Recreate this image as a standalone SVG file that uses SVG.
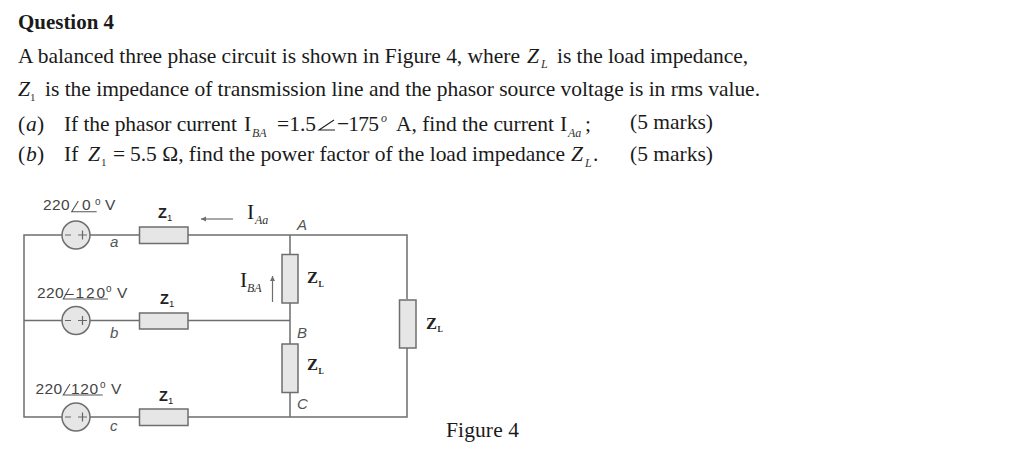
<svg xmlns="http://www.w3.org/2000/svg" width="1024" height="475" viewBox="0 0 1024 475">
<style>
.t{font-family:"Liberation Serif",serif;font-size:21.5px;fill:#1a1a1a}
.i{font-style:italic}
.sub{font-family:"Liberation Serif",serif;font-size:12px;font-style:italic;fill:#333}
.sub1{font-family:"Liberation Serif",serif;font-size:11px;fill:#333}
.s{font-family:"Liberation Sans",sans-serif;font-size:15.500px;fill:#444}
.deg{font-family:"Liberation Sans",sans-serif;font-size:10px;fill:#444}
.si{font-family:"Liberation Sans",sans-serif;font-size:15px;font-style:italic;fill:#555}
.zb{font-family:"Liberation Sans",sans-serif;font-size:14.500px;font-weight:bold;fill:#222}
.zs{font-family:"Liberation Sans",sans-serif;font-size:9.500px;fill:#222}
.zl{font-family:"Liberation Serif",serif;font-size:16.500px;font-weight:bold;fill:#222}
.zls{font-family:"Liberation Serif",serif;font-size:8px;font-weight:bold;fill:#222}
.w{fill:none;stroke:#6e6e6e;stroke-width:1.5}
.a{fill:none;stroke:#6e6e6e;stroke-width:1.2}
.e{fill:#e6e6e6;stroke:#6e6e6e;stroke-width:1.5}
.g{fill:none;stroke:#666;stroke-width:1.2}
.u{fill:none;stroke:#555;stroke-width:1.1}
.k{fill:none;stroke:#222;stroke-width:1.1}
</style>
<defs>
<marker id="h" markerWidth="7" markerHeight="7" refX="5" refY="3" orient="auto" markerUnits="userSpaceOnUse"><path d="M0 0.500L5 3L0 5.500Z" fill="#6e6e6e"/></marker>
</defs>
<g id="question-text">
<text class="t" x="18" y="29" font-weight="bold" textLength="96" lengthAdjust="spacingAndGlyphs">Question 4</text>
<text class="t" x="18" y="63" textLength="502" lengthAdjust="spacing">A balanced three phase circuit is shown in Figure 4, where</text>
<text class="t i" x="527" y="63">Z</text><text class="sub" x="541" y="68">L</text>
<text class="t" x="557" y="63" textLength="191" lengthAdjust="spacing">is the load impedance,</text>
<text class="t i" x="18" y="96">Z</text><text class="sub1" x="30" y="101">1</text>
<text class="t" x="45" y="96" textLength="715" lengthAdjust="spacing">is the impedance of transmission line and the phasor source voltage is in rms value.</text>
<text class="t" x="18" y="131">(</text><text class="t i" x="26" y="131">a</text><text class="t" x="37" y="131">)</text>
<text class="t" x="64" y="131" textLength="173" lengthAdjust="spacing">If the phasor current</text>
<text class="t" x="244" y="131">I</text>
<text class="sub" x="252" y="137">BA</text>
<text class="t" x="277" y="131" textLength="39" lengthAdjust="spacing">=1.5</text>
<path class="k" d="M334 120L319 130H335"/>
<text class="t" x="337" y="131" textLength="42" lengthAdjust="spacing">−175</text>
<text class="sub" x="381" y="122">o</text>
<text class="t" x="396" y="131" textLength="158" lengthAdjust="spacing">A, find the current</text>
<text class="t" x="560" y="131">I</text>
<text class="sub" x="568" y="137">Aa</text>
<text class="t" x="585" y="131">;</text>
<text class="t" x="630" y="129" textLength="83" lengthAdjust="spacing">(5 marks)</text>
<text class="t" x="18" y="161">(</text><text class="t i" x="26" y="161">b</text><text class="t" x="37" y="161">)</text>
<text class="t" x="64" y="161">If</text>
<text class="t i" x="88" y="161">Z</text><text class="sub1" x="101" y="166">1</text>
<text class="t" x="113" y="161">=</text>
<text class="t" x="130" y="161" textLength="435" lengthAdjust="spacing">5.5 Ω, find the power factor of the load impedance</text>
<text class="t i" x="571" y="161">Z</text><text class="sub" x="585" y="167">L</text><text class="t" x="593" y="161">.</text>
<text class="t" x="630" y="161" textLength="83" lengthAdjust="spacing">(5 marks)</text>
</g>
<g id="connectors">
<path class="w" d="M62 235H24V417H62"/>
<path class="w" d="M24 320.500H62"/>
<path class="w" d="M90 235H139M90 320.500H139M90 417H139"/>
<path class="w" d="M188 235H407V299M407 348V417H188"/>
<path class="w" d="M188 320.500H290"/>
<path class="w" d="M290 235V254M290 303V344M290 392V417"/>
<path class="a" d="M233 219H201" marker-end="url(#h)"/>
<path class="a" d="M272.500 302V276" marker-end="url(#h)"/>
</g>
<g id="source-a">
<circle class="e" cx="76" cy="235" r="14"/><path class="g" d="M65 235H71M78 235H87M82.500 230.500V239.500"/>
<text class="s" x="43" y="210" textLength="26.500">220</text><path class="u" d="M78.300 201L71.700 211.700H96.700"/><text class="s" x="82" y="210">0</text><text class="deg" x="95" y="205">o</text><text class="s" x="105" y="210">V</text>
<text class="si" x="110" y="247">a</text>
</g>
<g id="source-b">
<circle class="e" cx="76" cy="320.500" r="14"/><path class="g" d="M65 320.500H71M78 320.500H87M82.500 316V325"/>
<text class="s" x="37" y="297.500" textLength="26.500">220</text><path class="u" d="M69.300 288.300L63.300 299H108"/><text class="s" x="65" y="297.500" textLength="40">–120</text><text class="deg" x="106" y="292">o</text><text class="s" x="117" y="297.500">V</text>
<text class="si" x="110" y="338">b</text>
</g>
<g id="source-c">
<circle class="e" cx="76" cy="417" r="14"/><path class="g" d="M65 417H71M78 417H87M82.500 412.500V421.500"/>
<text class="s" x="35.500" y="393.500" textLength="26.500">220</text><path class="u" d="M70 384L63.300 395H102.700"/><text class="s" x="71" y="393.500" textLength="27">120</text><text class="deg" x="100" y="388">o</text><text class="s" x="111" y="393.500">V</text>
<text class="si" x="110" y="431">c</text>
</g>
<g id="z1-a"><rect class="e" x="139.500" y="227" width="48.500" height="16.500"/><text class="zb" x="158" y="218">Z</text><text class="zs" x="167" y="221">1</text></g>
<g id="z1-b"><rect class="e" x="139.500" y="313" width="48.500" height="16"/><text class="zb" x="160" y="304">Z</text><text class="zs" x="169" y="307">1</text></g>
<g id="z1-c"><rect class="e" x="139.500" y="409" width="48.500" height="16.500"/><text class="zb" x="159" y="401">Z</text><text class="zs" x="168" y="404">1</text></g>
<g id="zl-ab"><rect class="e" x="282" y="254.500" width="16" height="48.500"/><text class="zl" x="307" y="283">Z</text><text class="zls" x="318.500" y="286.500">L</text><text class="si" x="297" y="230">A</text></g>
<g id="zl-bc"><rect class="e" x="282" y="344" width="16" height="48.500"/><text class="zl" x="307" y="370">Z</text><text class="zls" x="318.500" y="373.500">L</text><text class="si" x="297" y="337.500">B</text><text class="si" x="297" y="409">C</text></g>
<g id="zl-ca"><rect class="e" x="399.500" y="300" width="16.500" height="48"/><text class="zl" x="426" y="329">Z</text><text class="zls" x="437.500" y="332">L</text></g>
<g id="labels">
<text class="t" x="247" y="219">I</text><text class="sub" x="255" y="224">Aa</text>
<text class="t" x="240" y="286.500">I</text><text class="sub" x="247" y="292">BA</text>
<text class="t" x="446" y="437" textLength="73" lengthAdjust="spacing">Figure 4</text>
</g>
</svg>
